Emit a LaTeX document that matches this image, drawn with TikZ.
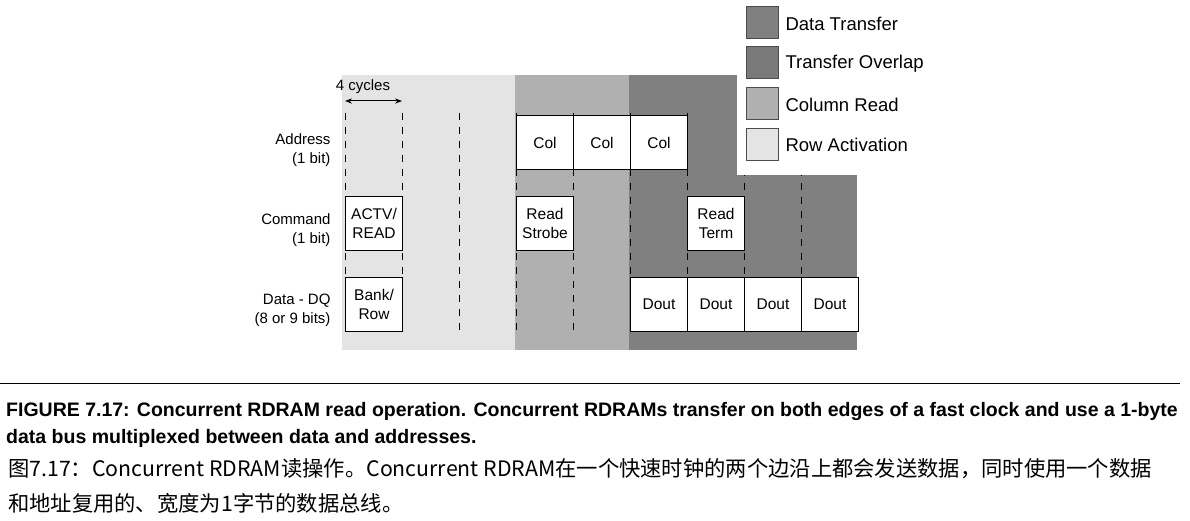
\documentclass[tikz,border=0pt]{standalone}
\usepackage{fontspec}
\setmainfont{Liberation Sans}
\newfontfamily\cjk{Noto Sans CJK SC}
\usetikzlibrary{arrows.meta}
\definecolor{rowc}{HTML}{E4E4E4}
\definecolor{colc}{HTML}{B0B0B0}
\definecolor{datc}{HTML}{808080}
\definecolor{ovlc}{HTML}{7A7A7A}
\begin{document}
\begin{tikzpicture}[x=1pt,y=-1pt,
  cell/.style={draw,line width=1pt,fill=white,minimum width=57pt,minimum height=54pt,anchor=north west,inner sep=0pt,align=center,font=\fontsize{15.5}{19}\selectfont},
  lab/.style={anchor=east,align=right,font=\fontsize{15}{19}\selectfont},
  leg/.style={draw=black!70,line width=1pt,minimum width=32pt,minimum height=32pt,anchor=north west,inner sep=0pt},
  legt/.style={anchor=west,font=\fontsize{18.5}{22}\selectfont},
  grid line/.style={line width=1pt,dash pattern=on 7pt off 7pt}]
\useasboundingbox (0,0) rectangle (1190,521);
\fill[rowc] (342,75) rectangle (515,350);
\fill[colc] (515,75) rectangle (629,350);
\fill[datc] (629,75) rectangle (857,350);
\foreach \x in {345,402,459,516,573,630,687,744,801}
  \draw[grid line] (\x,113) -- (\x,332);
\fill[white] (737,0) rectangle (1190,175);
% labels
\node[lab] (la) at (334,150) {Address\\(1 bit)};
\node[lab] (lc) at (334,230) {Command\\(1 bit)};
\node[lab] (ld) at (334,310) {Data - DQ\\(8 or 9 bits)};
\node[font=\fontsize{15}{18}\selectfont] (cyc) at (363,87) {4 cycles};
\coordinate (ca) at (345,101); \coordinate (cb) at (402,101);
\draw[{Stealth[length=7pt]}-{Stealth[length=7pt]},line width=1pt] (ca) -- (cb);
% address
\node[cell] (c1) at (516,115) {Col};
\node[cell] (c2) at (573,115) {Col};
\node[cell] (c3) at (630,115) {Col};
% command
\node[cell] (k1) at (345,196) {ACTV/\\READ};
\node[cell] (k2) at (516,196) {Read\\Strobe};
\node[cell] (k3) at (687,196) {Read\\Term};
% data
\node[cell] (d0) at (345,277) {Bank/\\Row};
\node[cell] (d1) at (630,277) {Dout};
\node[cell] (d2) at (687,277) {Dout};
\node[cell] (d3) at (744,277) {Dout};
\node[cell] (d4) at (801,277) {Dout};
% legend
\node[leg,fill=datc] (g1) at (746,6) {};
\node[leg,fill=ovlc] (g2) at (746,46) {};
\node[leg,fill=colc] (g3) at (746,87) {};
\node[leg,fill=rowc] (g4) at (746,128) {};
\node[legt] at (782,24) {Data Transfer};
\node[legt] at (782,64) {Transfer Overlap};
\node[legt] at (782,105) {Column Read};
\node[legt] at (782,145) {Row Activation};
% caption
\draw[line width=1pt] (0,383) -- (1180,383);
\node[anchor=west,inner sep=0pt,font=\fontsize{19.5}{22}\bfseries] (cap1) at (6,411) {FIGURE 7.17: Concurrent RDRAM read operation. Concurrent RDRAMs transfer on both edges of a fast clock and use a 1-byte};
\node[anchor=west,inner sep=0pt,font=\fontsize{19.5}{22}\bfseries] (cap2) at (6,438) {data bus multiplexed between data and addresses.};
\node[anchor=west,inner sep=0pt,font=\cjk\fontsize{21.3}{24}\selectfont] (cap3) at (8,469) {图7.17：Concurrent RDRAM读操作。Concurrent RDRAM在一个快速时钟的两个边沿上都会发送数据，同时使用一个数据};
\node[anchor=west,inner sep=0pt,font=\cjk\fontsize{21.3}{24}\selectfont] (cap4) at (8,503) {和地址复用的、宽度为1字节的数据总线。};
\end{tikzpicture}
\end{document}
